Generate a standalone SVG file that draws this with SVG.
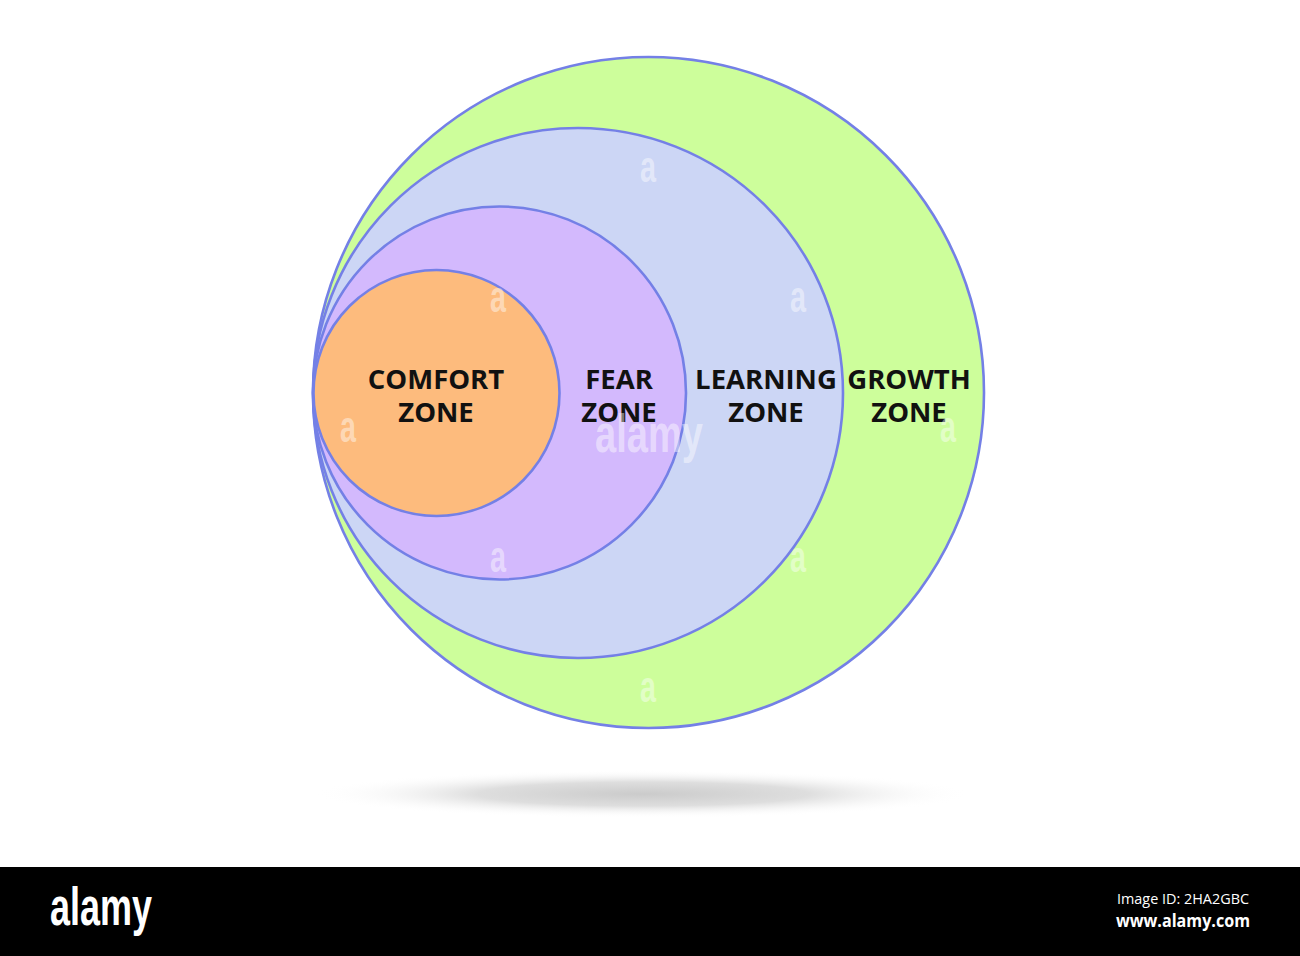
<svg xmlns="http://www.w3.org/2000/svg" width="1300" height="956" viewBox="0 0 1300 956">
  <defs>
    <radialGradient id="shadow" cx="0.5" cy="0.5" r="0.5">
      <stop offset="0" stop-color="#cbcbcb"/>
      <stop offset="0.5" stop-color="#dedede"/>
      <stop offset="1" stop-color="#ffffff" stop-opacity="0"/>
    </radialGradient>
  </defs>
  <style>
    .zone { stroke: #7480e6; stroke-width: 2.6; }
    .label { font-family: "Open Sans", "Noto Sans", "Liberation Sans", sans-serif; font-weight: 700; font-size: 27.5px; fill: #111111; text-anchor: middle; }
    .wm { font-family: "Liberation Sans", "DejaVu Sans", sans-serif; font-weight: 700; fill: #ffffff; fill-opacity: 0.45; text-anchor: middle; }
    .foot { font-family: "Open Sans", "Noto Sans", "Liberation Sans", sans-serif; fill: #ffffff; text-anchor: end; }
  </style>
  <rect x="0" y="0" width="1300" height="956" fill="#ffffff"/>
  <ellipse cx="643" cy="794" rx="330" ry="24" fill="url(#shadow)"/>

  <g id="growth-zone">
    <circle class="zone" cx="648.5" cy="392.5" r="335.5" fill="#cdfe9b"/>
  </g>
  <g id="learning-zone">
    <circle class="zone" cx="578" cy="393" r="265" fill="#ccd6f5"/>
  </g>
  <g id="fear-zone">
    <circle class="zone" cx="499.5" cy="393" r="186.5" fill="#d3b9fd"/>
  </g>
  <g id="comfort-zone">
    <circle class="zone" cx="436.5" cy="393" r="123" fill="#fdbb7d"/>
  </g>

  <g id="labels">
    <text class="label" id="comfort-label"><tspan x="436" y="388.5">COMFORT</tspan><tspan x="436" y="421.5">ZONE</tspan></text>
    <text class="label" id="fear-label"><tspan x="619" y="388.5">FEAR</tspan><tspan x="619" y="421.5">ZONE</tspan></text>
    <text class="label" id="learning-label"><tspan x="766" y="388.5">LEARNING</tspan><tspan x="766" y="421.5">ZONE</tspan></text>
    <text class="label" id="growth-label"><tspan x="909" y="388.5">GROWTH</tspan><tspan x="909" y="421.5">ZONE</tspan></text>
  </g>
  <g id="connectors"/>

  <g id="watermark">
    <text class="wm" x="648" y="182" font-size="44" textLength="16" lengthAdjust="spacingAndGlyphs">a</text>
    <text class="wm" x="498" y="312" font-size="44" textLength="16" lengthAdjust="spacingAndGlyphs">a</text>
    <text class="wm" x="798" y="312" font-size="44" textLength="16" lengthAdjust="spacingAndGlyphs">a</text>
    <text class="wm" x="348" y="442" font-size="44" textLength="16" lengthAdjust="spacingAndGlyphs">a</text>
    <text class="wm" x="948" y="442" font-size="44" textLength="16" lengthAdjust="spacingAndGlyphs">a</text>
    <text class="wm" x="498" y="572" font-size="44" textLength="16" lengthAdjust="spacingAndGlyphs">a</text>
    <text class="wm" x="798" y="572" font-size="44" textLength="16" lengthAdjust="spacingAndGlyphs">a</text>
    <text class="wm" x="648" y="702" font-size="44" textLength="16" lengthAdjust="spacingAndGlyphs">a</text>
    <text class="wm" x="649" y="452" font-size="54" textLength="108" lengthAdjust="spacingAndGlyphs">alamy</text>
  </g>

  <g id="footer">
    <rect x="0" y="867" width="1300" height="89" fill="#000000"/>
    <text x="50" y="925" font-family="Liberation Sans, DejaVu Sans, sans-serif" font-weight="700" font-size="54" fill="#ffffff" textLength="102" lengthAdjust="spacingAndGlyphs">alamy</text>
    <text class="foot" x="1249" y="903.5" font-size="15" textLength="132" lengthAdjust="spacingAndGlyphs">Image ID: 2HA2GBC</text>
    <text class="foot" x="1250" y="927" font-size="17.5" font-weight="700" textLength="134" lengthAdjust="spacingAndGlyphs">www.alamy.com</text>
  </g>
</svg>
